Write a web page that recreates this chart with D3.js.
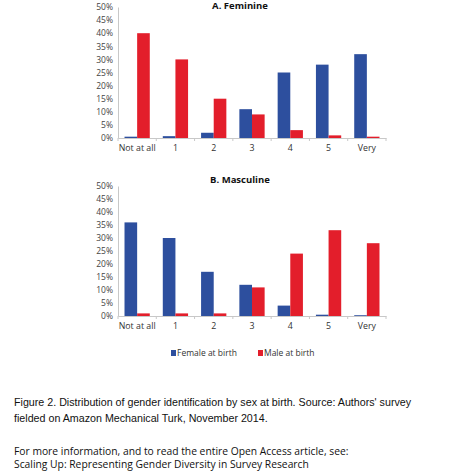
<!DOCTYPE html>
<html>
<head>
<meta charset="utf-8">
<script src="https://cdn.jsdelivr.net/npm/d3@7"></script>
<style>
  body { margin: 0; background: #fff; }
  svg { display: block; }
</style>
</head>
<body>
<script>

// categories on the x axis
var categories = ["Not at all", "1", "2", "3", "4", "5", "Very"];
var seriesNames = ["Female at birth", "Male at birth"];

// A. Feminine, percent
var feminineFemale = [0.5, 0.7, 2, 11, 25, 28, 32];
var feminineMale = [40, 30, 15, 9, 3, 1, 0.5];

// B. Masculine, percent
var masculineFemale = [36, 30, 17, 12, 4, 0.5, 0.3];
var masculineMale = [1, 1, 1, 11, 24, 33, 28];

var yTicks = [0, 5, 10, 15, 20, 25, 30, 35, 40, 45, 50];

var captionLines = [
  "Figure 2. Distribution of gender identification by sex at birth. Source: Authors' survey",
  "fielded on Amazon Mechanical Turk, November 2014."
];
var infoLines = [
  "For more information, and to read the entire Open Access article, see:",
  "Scaling Up: Representing Gender Diversity in Survey Research"
];

window.onload = function() {

  var W = 474, H = 474;
  var colors = ["#2d4f9e", "#e31e2b"];

  var svg = d3.select("body").append("svg")
      .attr("width", W)
      .attr("height", H);

  var x = d3.scaleBand()
      .domain(categories)
      .range([118, 386])
      .paddingInner(0.34)
      .paddingOuter(0.17);

  var xInner = d3.scaleBand()
      .domain([0, 1])
      .range([0, x.bandwidth()]);

  function drawPanel(title, female, male, top, bottom, titleY) {
    var y = d3.scaleLinear().domain([0, 50]).range([bottom, top]);
    var g = svg.append("g");

    // title
    g.append("text")
      .attr("x", 240)
      .attr("y", titleY)
      .attr("text-anchor", "middle")
      .attr("font-family", "'Open Sans', sans-serif")
      .attr("font-weight", "bold")
      .attr("font-size", "9.5px")
      .attr("fill", "#111")
      .text(title);

    // y axis
    var yAxis = g.append("g")
      .attr("transform", "translate(118,0)")
      .call(d3.axisLeft(y).tickValues(yTicks).tickSize(0).tickPadding(5)
        .tickFormat(function(d) { return d + "%"; }));
    yAxis.select(".domain").attr("stroke", "#c8c8c8");
    yAxis.selectAll("text")
      .attr("font-family", "'Open Sans', sans-serif")
      .attr("font-size", "8.5px")
      .attr("fill", "#444");

    // x axis
    var xAxis = g.append("g")
      .attr("transform", "translate(0," + bottom + ")")
      .call(d3.axisBottom(x).tickSize(0).tickPadding(7));
    xAxis.select(".domain").attr("stroke", "#c8c8c8");
    xAxis.selectAll("text")
      .attr("font-family", "'Open Sans', sans-serif")
      .attr("font-size", "8.8px")
      .attr("fill", "#333");

    // small tick marks between the categories
    var step = x.step();
    var edges = d3.range(categories.length + 1).map(function(i) {
      return x(categories[0]) - x.paddingOuter() * step + i * step;
    });
    g.selectAll(".sep")
      .data(edges)
      .enter()
      .append("line")
      .attr("x1", function(d) { return d; })
      .attr("x2", function(d) { return d; })
      .attr("y1", bottom)
      .attr("y2", bottom + 3)
      .attr("stroke", "#c8c8c8");

    var rows = [female, male];
    rows.forEach(function(vals, s) {
      g.selectAll(".bar" + s)
        .data(vals)
        .enter()
        .append("rect")
        .attr("x", function(d, i) { return x(categories[i]) + xInner(s); })
        .attr("width", xInner.bandwidth())
        .attr("y", function(d) { return y(d); })
        .attr("height", function(d) { return bottom - y(d); })
        .attr("fill", colors[s]);
    });
  }

  drawPanel("A. Feminine", feminineFemale, feminineMale, 7, 138, 8.5);
  drawPanel("B. Masculine", masculineFemale, masculineMale, 186, 316, 183);

  // legend
  var legendX = [171, 258];
  var legend = svg.selectAll(".legend")
      .data(seriesNames)
      .enter()
      .append("g")
      .attr("transform", function(d, i) {
        return "translate(" + legendX[i] + ",353)";
      });
  legend.append("rect")
    .attr("x", 0)
    .attr("y", -3)
    .attr("width", 5)
    .attr("height", 6)
    .attr("fill", function(d, i) { return colors[i]; });
  legend.append("text")
    .attr("x", 6)
    .attr("y", 0)
    .attr("dy", "0.32em")
    .attr("font-family", "'Open Sans', sans-serif")
    .attr("font-size", "8.5px")
    .attr("fill", "#333")
    .text(function(d) { return d; });

  // caption
  svg.selectAll(".cap")
    .data(captionLines)
    .enter()
    .append("text")
    .attr("x", 14)
    .attr("y", function(d, i) { return 406 + i * 16; })
    .attr("font-family", "'Liberation Sans', Arial, sans-serif")
    .attr("font-size", "10.7px")
    .attr("fill", "#111")
    .text(function(d) { return d; });

  svg.selectAll(".info")
    .data(infoLines)
    .enter()
    .append("text")
    .attr("x", 14)
    .attr("y", function(d, i) { return 455 + i * 13; })
    .attr("font-family", "'Open Sans', sans-serif")
    .attr("font-size", "10.3px")
    .attr("fill", "#111")
    .text(function(d) { return d; });
};

</script>
</body>
</html>
